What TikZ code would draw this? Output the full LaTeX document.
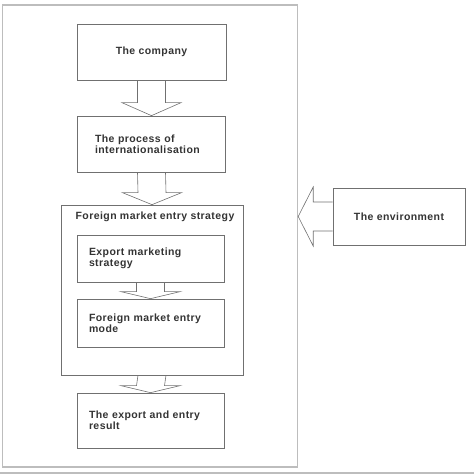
\documentclass[tikz,border=0pt]{standalone}
\usepackage{fontspec}
\setmainfont{Liberation Sans}
\usetikzlibrary{calc}

\definecolor{framegray}{HTML}{BDBDBD}
\definecolor{linegray}{HTML}{707070}
\definecolor{textgray}{HTML}{333333}

% block arrow pointing down, from node #1 to node #2, head length #3
\newcommand{\downblock}[3]{%
  \draw[blockarrow]
    ($(#1.south)+(-14,0)$) -- ($(#2.north)+(-14,-#3)$)
    -- ($(#2.north)+(-29.5,-#3)$) -- (#2.north)
    -- ($(#2.north)+(29.5,-#3)$) -- ($(#2.north)+(14,-#3)$)
    -- ($(#1.south)+(14,0)$);}

\begin{document}
\begin{tikzpicture}[
    x=1pt, y=-1pt,
    boxfont/.style={text=textgray, font=\fontsize{10.5}{11}\selectfont\bfseries\addfontfeatures{LetterSpace=4}},
    box/.style={draw=linegray, line width=0.7pt, rectangle, inner sep=0pt, boxfont},
    leftbox/.style={box, align=left, text width=#1},
    blockarrow/.style={draw=linegray, line width=0.6pt, line join=miter},
  ]
  \useasboundingbox (0,0) rectangle (474,474);
  \fill[framegray] (0,471.5) rectangle (474,474);
  \node[draw=framegray, line width=1.4pt, minimum width=295, minimum height=462, inner sep=0pt]
    (frame) at (150,236) {};

  \node[box, minimum width=149, minimum height=56] (company) at (151.5,52) {The company};
  \node[leftbox=113pt, minimum width=148, minimum height=56] (process) at (151.5,144)
    {The process of\\internationalisation};
  \node[box, minimum width=182, minimum height=170] (strategy) at (152,290) {};
  \node[boxfont] (strategytitle) at (155,217) {Foreign market entry strategy};
  \node[leftbox=123pt, minimum width=147, minimum height=47] (export) at (150.5,258.5)
    {Export marketing\\strategy};
  \node[leftbox=123pt, minimum width=147, minimum height=48] (mode) at (150.5,323)
    {Foreign market entry\\mode};
  \node[leftbox=123pt, minimum width=147, minimum height=55] (result) at (150.5,420.5)
    {The export and entry\\result};
  \node[box, minimum width=132, minimum height=57] (environment) at (399,216.5) {The environment};

  \downblock{company}{process}{13}
  \downblock{process}{strategy}{12}
  \downblock{export}{mode}{7}
  \downblock{strategy}{result}{7}

  % arrow from the environment into the frame
  \coordinate (envtip) at (environment.west -| frame.east);
  \draw[blockarrow]
    ($(environment.west)+(0,-14.5)$) -- ($(envtip)+(15,-14.5)$)
    -- ($(envtip)+(15,-29.5)$) -- (envtip)
    -- ($(envtip)+(15,29.5)$) -- ($(envtip)+(15,14.5)$)
    -- ($(environment.west)+(0,14.5)$);
\end{tikzpicture}
\end{document}
